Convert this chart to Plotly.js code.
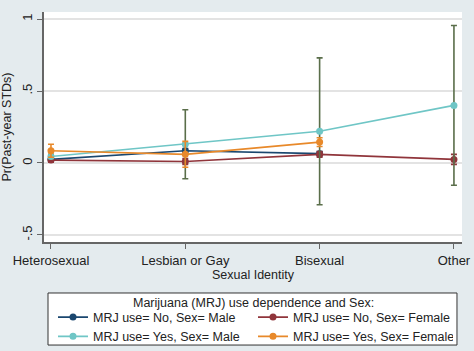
<!DOCTYPE html>
<html>
<head>
<meta charset="utf-8">
<script src="https://cdn.plot.ly/plotly-3.0.1.min.js"></script>
<style>html,body{margin:0;padding:0;background:#e4ebee;}#chart{width:474px;height:351px;}</style>
</head>
<body>
<div id="chart"></div>
<script>
var categories = ["Heterosexual", "Lesbian or Gay", "Bisexual", "Other"];
var seriesNames = ["MRJ use= No, Sex= Male", "MRJ use= No, Sex= Female", "MRJ use= Yes, Sex= Male", "MRJ use= Yes, Sex= Female"];
var legendTitle = "Marijuana (MRJ) use dependence and Sex:";
var noMale = [0.025, 0.085, 0.065, null];
var noMaleErr = [0.015, 0.015, 0.015, null];
var noFemale = [0.02, 0.01, 0.06, 0.025];
var noFemaleErr = [0.015, 0.02, 0.02, 0.035];
var yesMale = [0.045, 0.13, 0.22, 0.40];
var yesMaleErr = [0.015, 0.24, 0.51, 0.555];
var yesFemale = [0.085, 0.06, 0.145, null];
var yesFemaleErr = [0.045, 0.09, 0.03, null];
var yTickVals = [-0.5, 0, 0.5, 1];
var yTickText = ["-.5", "0", ".5", "1"];

var xIdx = categories.map(function(c, i){ return i; });
function mk(name, y, err, color, errColor){
  return {
    type: "scatter", mode: "lines+markers", name: name,
    x: xIdx, y: y,
    line: {color: color, width: 1.6},
    marker: {color: color, size: 7, symbol: "circle"},
    error_y: {type: "data", array: err, visible: true, color: errColor, thickness: 1.6, width: 3},
    connectgaps: false
  };
}
var data = [
  mk(seriesNames[0], noMale, noMaleErr, "#1a476f", "#1a476f"),
  mk(seriesNames[1], noFemale, noFemaleErr, "#90353b", "#90353b"),
  mk(seriesNames[2], yesMale, yesMaleErr, "#6fc6c6", "#5a6e4a"),
  mk(seriesNames[3], yesFemale, yesFemaleErr, "#e8892a", "#e8892a")
];
var layout = {
  width: 474, height: 351,
  paper_bgcolor: "#e4ebee", plot_bgcolor: "#ffffff",
  margin: {l: 44, r: 12, t: 12, b: 109, autoexpand: false},
  font: {family: "Liberation Sans, Arial, sans-serif", size: 12, color: "#222"},
  showlegend: true,
  xaxis: {
    range: [-0.052, 3.06], tickvals: xIdx, ticktext: categories,
    showgrid: false, zeroline: false, showline: true, linecolor: "#666", linewidth: 2,
    ticks: "outside", ticklen: 5, tickcolor: "#666", tickfont: {size: 13},
    title: {text: "Sexual Identity", font: {size: 12.5}, standoff: 4}
  },
  yaxis: {
    range: [-0.549, 1.049], tickvals: yTickVals, ticktext: yTickText, tickangle: -90,
    showgrid: true, gridcolor: "#e3e3e3", gridwidth: 1.5, zeroline: false,
    showline: true, linecolor: "#666", linewidth: 2,
    ticks: "outside", ticklen: 5, tickcolor: "#666", tickfont: {size: 13},
    title: {text: "Pr(Past-year STDs)", font: {size: 12.5}, standoff: 6}
  },
  shapes: [{
    type: "rect", xref: "paper", yref: "paper",
    x0: 0.0096, x1: 0.988, y0: -0.2217, y1: -0.448,
    fillcolor: "#ffffff", line: {color: "#333", width: 1}, layer: "below"
  }],
  annotations: [{
    xref: "paper", yref: "paper", x: 0.5, y: -0.265, xanchor: "center", yanchor: "middle",
    text: legendTitle, showarrow: false, font: {size: 12.5, color: "#222"}
  }],
  legend: {
    orientation: "h", x: 0.5, xanchor: "center", y: -0.263, yanchor: "top",
    bgcolor: "rgba(0,0,0,0)", borderwidth: 0,
    entrywidth: 155, tracegroupgap: 0,
    font: {size: 12.5}
  }
};
Plotly.newPlot("chart", data, layout, {displayModeBar: false, staticPlot: true});
</script>
</body>
</html>
